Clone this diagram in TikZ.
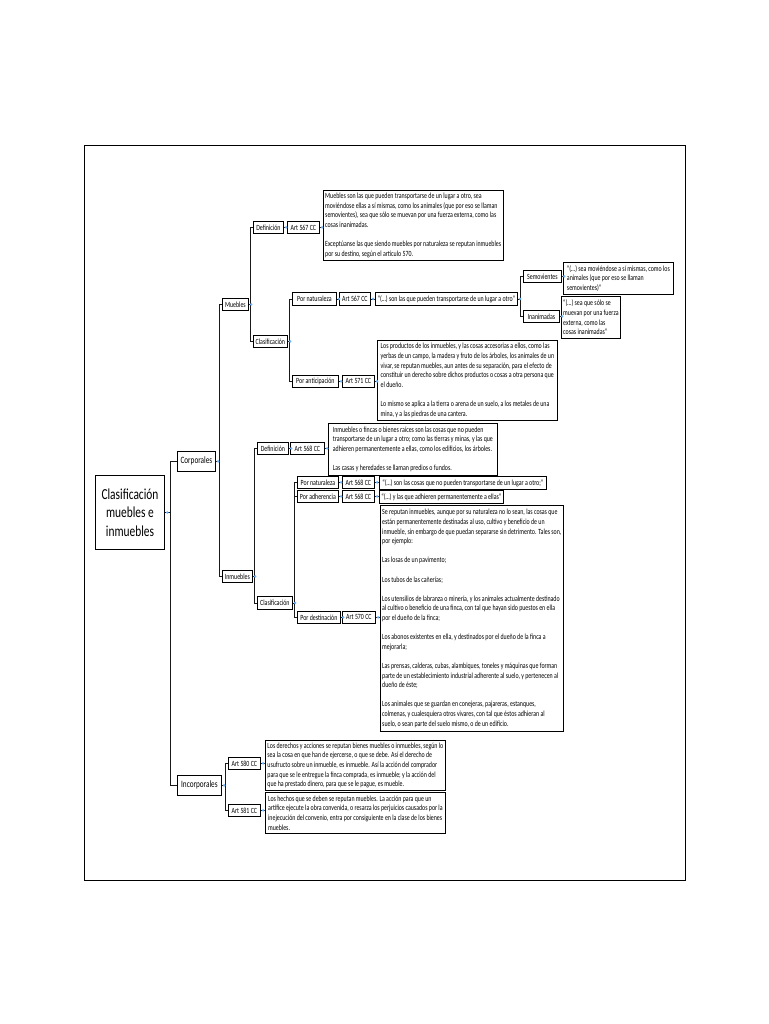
\documentclass[tikz,border=0pt]{standalone}
\usepackage{fontspec}
\setmainfont{Carlito}[FakeStretch=0.745]
\usetikzlibrary{shadows}
\tikzset{
  box/.style={draw=black, line width=0.8pt, fill=white,
    drop shadow={shadow xshift=0.9pt,shadow yshift=-0.9pt,opacity=0.85,fill=black},
    anchor=north west, inner xsep=1.8pt, inner ysep=1pt,
    font=\fontsize{7.9}{9.6}\selectfont, align=left},
  lbl/.style={box, align=center},
  big/.style={box, align=center, font=\fontsize{9.7}{11}\selectfont},
  conn/.style={draw=black!90, line width=0.75pt},
}
\newcommand{\tree}[3]{\draw[conn] (#1.east) -| ([xshift=-#3]#2.west) -- (#2.west);}
\newcommand{\chain}[2]{\draw[conn] (#1.east) -- (#1.east -| #2.west);}
\newcommand{\knob}[1]{\fill[blue!50!cyan!60] ([xshift=2.3pt]#1.east) circle (1.4pt);}
\begin{document}
\begin{tikzpicture}[x=1pt,y=-1pt]
\fill[white] (0,0) rectangle (768,1024);
\useasboundingbox (0,0) rectangle (768,1024);
\draw[line width=0.9pt] (84,145) rectangle (685,880);

% root
\node[box, align=center, line width=1pt, minimum width=69pt, minimum height=74pt,
  font=\fontsize{15.3}{18.3}\selectfont] (root) at (95,475) {Clasificación\\muebles e\\inmuebles};
\node[big, minimum width=38pt, minimum height=20pt] (corp) at (177,451) {Corporales};
\node[big, minimum width=44pt, minimum height=20pt] (incorp) at (177,775) {Incorporales};

% muebles branch
\node[lbl, minimum width=26pt, minimum height=12pt] (mueb) at (222,298) {Muebles};
\node[lbl, minimum width=30pt, minimum height=12pt] (defM) at (253,221) {Definición};
\node[lbl, minimum width=32pt, minimum height=12pt] (artMa) at (287,221) {Art 567 CC};
\node[box, minimum width=179pt, minimum height=70pt] (boxA) at (323,190) {Muebles son las que pueden transportarse de un lugar a otro, sea\\
moviéndose ellas a sí mismas, como los animales (que por eso se llaman\\
semovientes), sea que sólo se muevan por una fuerza externa, como las\\
cosas inanimadas.\\[9.6pt]
Exceptúanse las que siendo muebles por naturaleza se reputan inmuebles\\
por su destino, según el artículo 570.};
\node[lbl, minimum width=34pt, minimum height=12pt] (clasM) at (253,335) {Clasificación};
\node[lbl, minimum width=44pt, minimum height=13pt] (natM) at (292,292) {Por naturaleza};
\node[lbl, minimum width=31pt, minimum height=13pt] (artMb) at (339,292) {Art 567 CC};
\node[box, minimum width=142pt, minimum height=13pt] (boxB) at (375,292) {“(…) son las que pueden transportarse de un lugar a otro”};
\node[lbl, minimum width=38pt, minimum height=12pt] (semo) at (523,270) {Semovientes};
\node[box, minimum width=110pt, minimum height=32pt] (boxC) at (563,262) {“(…) sea moviéndose a sí mismas, como los\\
animales (que por eso se llaman\\
semovientes)”};
\node[lbl, minimum width=36pt, minimum height=12pt] (inan) at (523,310) {Inanimadas};
\node[box, minimum width=59pt, minimum height=42pt] (boxD) at (561,296) {“(…) sea que sólo se\\
muevan por una fuerza\\
externa, como las\\
cosas inanimadas”};
\node[lbl, minimum width=46pt, minimum height=12pt] (antM) at (292,375) {Por anticipación};
\node[lbl, minimum width=32pt, minimum height=12pt] (artMc) at (342,375) {Art 571 CC};
\node[box, minimum width=180pt, minimum height=80pt] (boxE) at (377,340) {Los productos de los inmuebles, y las cosas accesorias a ellos, como las\\
yerbas de un campo, la madera y fruto de los árboles, los animales de un\\
vivar, se reputan muebles, aun antes de su separación, para el efecto de\\
constituir un derecho sobre dichos productos o cosas a otra persona que\\
el dueño.\\[9.6pt]
Lo mismo se aplica a la tierra o arena de un suelo, a los metales de una\\
mina, y a las piedras de una cantera.};

% inmuebles branch
\node[lbl, minimum width=30pt, minimum height=12pt] (inmu) at (222,570) {Inmuebles};
\node[lbl, minimum width=31pt, minimum height=12pt] (defI) at (257,442) {Definición};
\node[lbl, minimum width=34pt, minimum height=12pt] (artIa) at (290,442) {Art 568 CC};
\node[box, minimum width=169pt, minimum height=52pt] (boxF) at (328,423) {Inmuebles o fincas o bienes raíces son las cosas que no pueden\\
transportarse de un lugar a otro; como las tierras y minas, y las que\\
adhieren permanentemente a ellas, como los edificios, los árboles.\\[9.6pt]
Las casas y heredades se llaman predios o fundos.};
\node[lbl, minimum width=35pt, minimum height=13pt] (clasI) at (257,596) {Clasificación};
\node[lbl, minimum width=41pt, minimum height=12pt] (natI) at (297,476) {Por naturaleza};
\node[lbl, minimum width=32pt, minimum height=12pt] (artIb) at (342,476) {Art 568 CC};
\node[box, minimum width=167pt, minimum height=13pt] (boxG) at (379,476) {“(…) son las cosas que no pueden transportarse de un lugar a otro;”};
\node[lbl, minimum width=41pt, minimum height=12pt] (adhI) at (297,490) {Por adherencia};
\node[lbl, minimum width=32pt, minimum height=12pt] (artIc) at (342,490) {Art 568 CC};
\node[box, minimum width=124pt, minimum height=13pt] (boxH) at (379,490) {“(…) y las que adhieren permanentemente a ellas”};
\node[lbl, minimum width=43pt, minimum height=12pt] (desI) at (297,611) {Por destinación};
\node[lbl, minimum width=33pt, minimum height=12pt] (artId) at (342,611) {Art 570 CC};
\node[box, minimum width=182pt, minimum height=226pt] (boxI) at (380,505) {Se reputan inmuebles, aunque por su naturaleza no lo sean, las cosas que\\
están permanentemente destinadas al uso, cultivo y beneficio de un\\
inmueble, sin embargo de que puedan separarse sin detrimento. Tales son,\\
por ejemplo:\\[9.6pt]
Las losas de un pavimento;\\[9.6pt]
Los tubos de las cañerías;\\[9.6pt]
Los utensilios de labranza o minería, y los animales actualmente destinado\\
al cultivo o beneficio de una finca, con tal que hayan sido puestos en ella\\
por el dueño de la finca;\\[9.6pt]
Los abonos existentes en ella, y destinados por el dueño de la finca a\\
mejorarla;\\[9.6pt]
Las prensas, calderas, cubas, alambiques, toneles y máquinas que forman\\
parte de un establecimiento industrial adherente al suelo, y pertenecen al\\
dueño de éste;\\[9.6pt]
Los animales que se guardan en conejeras, pajareras, estanques,\\
colmenas, y cualesquiera otros vivares, con tal que éstos adhieran al\\
suelo, o sean parte del suelo mismo, o de un edificio.};

% incorporales branch
\node[lbl, minimum width=32pt, minimum height=12pt] (artJ) at (228,757) {Art 580 CC};
\node[box, minimum width=180pt, minimum height=50pt] (boxJ) at (265,740) {Los derechos y acciones se reputan bienes muebles o inmuebles, según lo\\
sea la cosa en que han de ejercerse, o que se debe. Así el derecho de\\
usufructo sobre un inmueble, es inmueble. Así la acción del comprador\\
para que se le entregue la finca comprada, es inmueble; y la acción del\\
que ha prestado dinero, para que se le pague, es mueble.};
\node[lbl, minimum width=32pt, minimum height=12pt] (artK) at (228,804) {Art 581 CC};
\node[box, minimum width=180pt, minimum height=41pt] (boxK) at (265,792) {Los hechos que se deben se reputan muebles. La acción para que un\\
artífice ejecute la obra convenida, o resarza los perjuicios causados por la\\
inejecución del convenio, entra por consiguiente en la clase de los bienes\\
muebles.};

% connectors
\tree{root}{corp}{7pt}
\tree{root}{incorp}{7pt}
\tree{corp}{mueb}{3pt}
\tree{corp}{inmu}{3pt}
\tree{mueb}{defM}{3pt}
\tree{mueb}{clasM}{3pt}
\chain{defM}{artMa}
\chain{artMa}{boxA}
\tree{clasM}{natM}{3pt}
\tree{clasM}{antM}{3pt}
\chain{natM}{artMb}
\chain{artMb}{boxB}
\tree{boxB}{semo}{3pt}
\tree{boxB}{inan}{3pt}
\chain{semo}{boxC}
\chain{inan}{boxD}
\chain{antM}{artMc}
\chain{artMc}{boxE}
\tree{inmu}{defI}{3pt}
\tree{inmu}{clasI}{3pt}
\chain{defI}{artIa}
\chain{artIa}{boxF}
\tree{clasI}{natI}{3pt}
\tree{clasI}{adhI}{3pt}
\tree{clasI}{desI}{3pt}
\chain{natI}{artIb}
\chain{artIb}{boxG}
\chain{adhI}{artIc}
\chain{artIc}{boxH}
\chain{desI}{artId}
\chain{artId}{boxI}
\tree{incorp}{artJ}{3pt}
\tree{incorp}{artK}{3pt}
\chain{artJ}{boxJ}
\chain{artK}{boxK}

% collapse knobs
\knob{root}\knob{corp}\knob{incorp}\knob{mueb}\knob{inmu}
\knob{defM}\knob{artMa}\knob{clasM}\knob{natM}\knob{artMb}\knob{boxB}
\knob{semo}\knob{inan}\knob{antM}\knob{artMc}
\knob{defI}\knob{artIa}\knob{clasI}\knob{natI}\knob{artIb}\knob{adhI}\knob{artIc}
\knob{desI}\knob{artId}\knob{artJ}\knob{artK}
\end{tikzpicture}
\end{document}
